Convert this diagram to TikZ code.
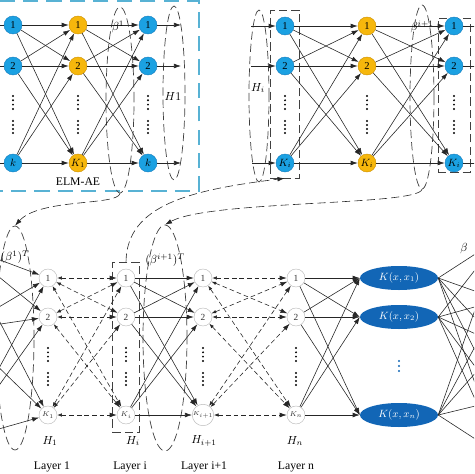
\documentclass[tikz,border=0pt]{standalone}
\usepackage{fontspec}
\setmainfont{Liberation Serif}
\usepackage{xcolor}
\usepackage{tikz}
\usetikzlibrary{arrows.meta,shapes.geometric}

\definecolor{nodeblue}{RGB}{27,161,226}
\definecolor{nodeedge}{RGB}{22,125,190}
\definecolor{nodeyellow}{RGB}{246,183,12}
\definecolor{yellowedge}{RGB}{205,145,0}
\definecolor{boxblue}{RGB}{88,178,212}
\definecolor{kernblue}{RGB}{18,102,182}

% one pixel of the drawing
\def\u{0.03cm}

\tikzset{
    inode/.style={circle, draw=nodeedge, fill=nodeblue, minimum size=18*\u, inner sep=0pt, font=\small},
    hnode/.style={inode, draw=yellowedge, fill=nodeyellow},
    lnode/.style={circle, draw=gray!55, fill=white, minimum size=18*\u, inner sep=0pt, font=\footnotesize, text=black!80},
    knode/.style={ellipse, fill=kernblue, minimum width=78*\u, minimum height=24*\u, inner sep=0pt, text=white, font=\small},
    plain/.style={black!85, line width=0.5pt},
    wire/.style={plain, -{Latex[length=6pt,width=4pt]}},
    dwire/.style={plain, dashed, dash pattern=on 7pt off 3.5pt, -{Latex[length=6pt,width=4pt]}},
    bwire/.style={plain, dashed, dash pattern=on 4pt off 2.5pt, {Latex[length=4pt,width=3pt]}-{Latex[length=6pt,width=4pt]}},
    grp/.style={draw=black!75, dashed, dash pattern=on 7pt off 3.5pt, line width=0.6pt, inner sep=0pt},
    aebox/.style={draw=boxblue, dash pattern=on 13pt off 7pt, line width=1.4pt}
}

\newcommand{\vdotpair}[3][black]{%
    \foreach \t in {0,4.3,8.6,13,25,29,33,37} {\fill[#1] (#2,#3+\t) circle (0.9pt);}}

\begin{document}
\begin{tikzpicture}[x=\u, y=-\u]
    \useasboundingbox (0,0) rectangle (474,474);
    \clip (0,0) rectangle (474,474);

    % ELM-AE frame
    \draw[aebox] (-10,1) rectangle (199,191);
    \node (elmae) at (78,182) {ELM-AE};

    % Dashed groups
    \node[grp, ellipse, minimum width=28*\u, minimum height=186*\u] (beta1) at (120,100) {};
    \node[grp, ellipse, minimum width=22*\u, minimum height=174*\u] (hone) at (174,93) {};
    \node[grp, ellipse, minimum width=20*\u, minimum height=172*\u] (hi) at (259,96) {};
    \node[grp, rectangle, minimum width=29*\u, minimum height=168*\u] (inbox) at (284.5,94) {};
    \node[grp, ellipse, minimum width=24*\u, minimum height=184*\u] (betai) at (422,97) {};
    \node[grp, rectangle, minimum width=32*\u, minimum height=154*\u] (outbox) at (454,95) {};
    \node[grp, ellipse, minimum width=38*\u, minimum height=224*\u] (betaT1) at (15,338) {};
    \node[grp, ellipse, minimum width=44*\u, minimum height=226*\u] (betaTi) at (165,338) {};
    \node[grp, rectangle, minimum width=27*\u, minimum height=170*\u] (layi) at (126,347) {};

    % ELM-AE of the first layer
    \node[inode] (a1) at (13,25) {1};
    \node[inode] (a2) at (13,66) {2};
    \node[inode] (a3) at (13,163) {$k$};
    \node[hnode] (b1) at (78,25) {1};
    \node[hnode] (b2) at (78,66) {2};
    \node[hnode] (b3) at (78,163) {$K_1$};
    \node[inode] (c1) at (148,25) {1};
    \node[inode] (c2) at (148,66) {2};
    \node[inode] (c3) at (148,163) {$k$};
    \vdotpair{13}{96}
    \vdotpair{78}{96}
    \vdotpair{148}{96}

    % ELM-AE of layer i
    \node[inode] (d1) at (285,26) {1};
    \node[inode] (d2) at (285,66) {2};
    \node[inode] (d3) at (285,163) {$K_i$};
    \node[hnode] (e1) at (367,26) {1};
    \node[hnode] (e2) at (367,66) {2};
    \node[hnode] (e3) at (367,163) {$K_i$};
    \node[inode] (f1) at (454,26) {1};
    \node[inode] (f2) at (454,66) {2};
    \node[inode] (f3) at (454,163) {$K_i$};
    \vdotpair{285}{96}
    \vdotpair{367}{96}
    \vdotpair{454}{96}

    % Stacked hidden layers
    \node[lnode] (g1) at (48,278) {1};
    \node[lnode] (g2) at (48,317) {2};
    \node[lnode] (g3) at (48,415) {$\scriptstyle K_1$};
    \node[lnode] (h1) at (126,278) {1};
    \node[lnode] (h2) at (126,317) {2};
    \node[lnode] (h3) at (126,415) {$\scriptstyle K_i$};
    \node[lnode] (m1) at (203,278) {1};
    \node[lnode] (m2) at (203,317) {2};
    \node[lnode] (m3) at (203,415) {$\scriptscriptstyle K_{i+1}$};
    \node[lnode] (n1) at (296,278) {1};
    \node[lnode] (n2) at (296,317) {2};
    \node[lnode] (n3) at (296,415) {$\scriptstyle K_n$};
    \vdotpair{48}{348}
    \vdotpair{126}{348}
    \vdotpair{203}{348}
    \vdotpair{296}{348}

    % Kernel layer
    \node[knode] (p1) at (399,278) {$K(x,x_1)$};
    \node[knode] (p2) at (399,317) {$K(x,x_2)$};
    \node[knode] (p3) at (399,415) {$K(x,x_n)$};
    \foreach \t in {0,5,10} {\fill[kernblue] (399,361+\t) circle (1pt);}

    % Free ends outside the frame
    \coordinate (ain1) at (-5,25);
    \coordinate (ain2) at (-5,66);
    \coordinate (ain3) at (-5,163);
    \coordinate (cout1) at (181,25);
    \coordinate (cout2) at (181,66);
    \coordinate (cout3) at (181,163);
    \coordinate (din1) at (251,26);
    \coordinate (din2) at (251,66);
    \coordinate (din3) at (252,163);
    \coordinate (fout1) at (485,26);
    \coordinate (fout2) at (485,66);
    \coordinate (fout3) at (485,163);
    \coordinate (s1) at (-40,245);
    \coordinate (s2) at (-40,330);
    \coordinate (s3) at (-40,440);
    \coordinate (q1) at (500,238);
    \coordinate (q2) at (500,300);
    \coordinate (q3) at (500,345);
    \coordinate (q4) at (500,400);
    \coordinate (q5) at (500,455);

    % Connections of the autoencoders
    \foreach \i in {1,2,3} {
        \draw[plain] (ain\i) -- (a\i);
        \draw[wire] (c\i) -- (cout\i);
        \draw[wire] (din\i) -- (d\i);
        \draw[plain] (f\i) -- (fout\i);
        \foreach \j in {1,2,3} {
            \draw[wire] (a\i) -- (b\j);
            \draw[wire] (b\i) -- (c\j);
            \draw[wire] (d\i) -- (e\j);
            \draw[wire] (e\i) -- (f\j);
        }
    }

    % Connections of the stacked layers
    \foreach \i in {1,2,3} {
        \foreach \j in {1,2,3} {
            \draw[wire] (s\i) -- (g\j);
            \draw[bwire] (g\i) -- (h\j);
            \draw[wire] (h\i) -- (m\j);
            \draw[bwire] (m\i) -- (n\j);
            \draw[wire] (n\i) -- (p\j.west);
        }
        \foreach \k in {1,...,5} {\draw[plain] (p\i.east) -- (q\k);}
    }

    % Weights handed down to the stack
    \draw[dwire] (beta1.south) .. controls (118,206) and (40,198) .. (betaT1.north);
    \draw[dwire] (betai.south) .. controls (418,206) and (210,200) .. (betaTi.north);
    \draw[dwire] (layi.north) .. controls (127,205) and (190,190) .. (inbox.south);

    % Labels
    \node (lbeta1) at (118,27) {$\beta^1$};
    \node (lbetai) at (422,27) {$\beta^{i+1}$};
    \node (lhone) at (173,96) {$H1$};
    \node (lhi) at (258,88) {$H_i$};
    \node (lbetaT1) at (15,257) {$(\beta^1)^T$};
    \node (lbetaTi) at (165,260) {$(\beta^{i+1})^T$};
    \node (lbeta) at (464,249) {$\beta$};
    \node (lh1) at (50,441) {$H_1$};
    \node (lhhi) at (133,441) {$H_i$};
    \node (lhi1) at (204,441) {$H_{i+1}$};
    \node (lhn) at (295,441) {$H_n$};
    \node (lay1) at (52,467) {Layer 1};
    \node (layli) at (130,467) {Layer i};
    \node (layi1) at (204,467) {Layer i+1};
    \node (layn) at (296,467) {Layer n};
\end{tikzpicture}
\end{document}
